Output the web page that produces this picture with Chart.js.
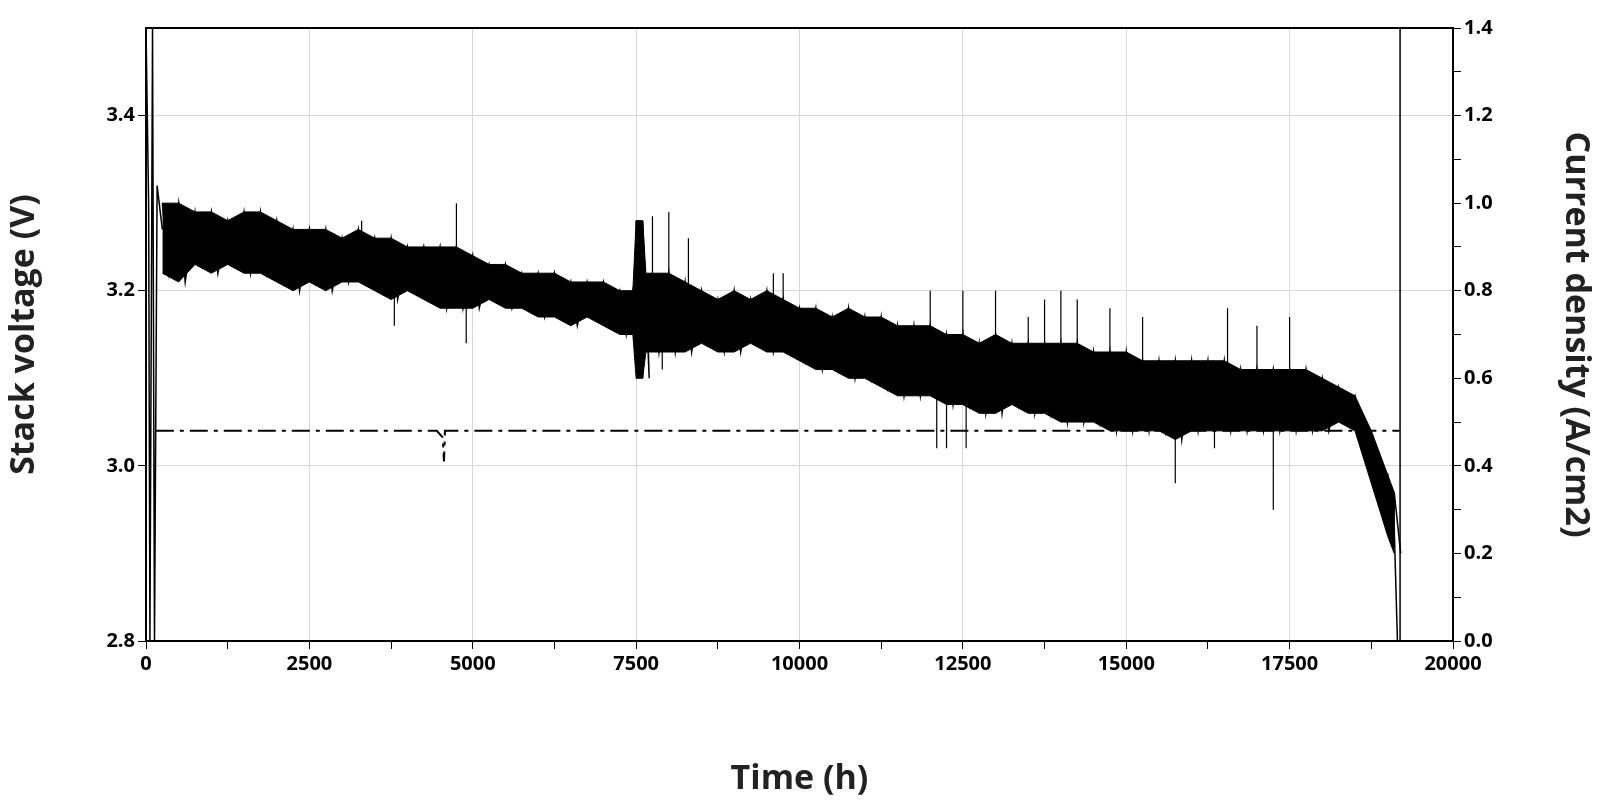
<!DOCTYPE html>
<html><head><meta charset="utf-8">
<script src="https://cdn.jsdelivr.net/npm/chart.js@4"></script>
<style>html,body{margin:0;background:#fff}#c{display:block}</style>
</head><body>
<canvas id="c" width="1600" height="804"></canvas>
<script>
// core band of the voltage trace, read every 250 h
const times = [250,500,750,1000,1250,1500,1750,2000,2250,2500,2750,3000,3250,3500,3750,4000,4250,4500,4750,5000,5250,5500,5750,6000,6250,6500,6750,7000,7250,7450,7500,7600,7650,7750,8000,8250,8500,8750,9000,9250,9500,9750,10000,10250,10500,10750,11000,11250,11500,11750,12000,12250,12500,12750,13000,13250,13500,13750,14000,14250,14500,14750,15000,15250,15500,15750,16000,16250,16500,16750,17000,17250,17500,17750,18000,18250,18500,18750,19000,19100];
const vHigh = [3.30,3.30,3.29,3.29,3.28,3.29,3.29,3.28,3.27,3.27,3.27,3.26,3.27,3.26,3.26,3.25,3.25,3.25,3.25,3.24,3.23,3.23,3.22,3.22,3.22,3.21,3.21,3.21,3.20,3.20,3.28,3.28,3.22,3.22,3.22,3.21,3.20,3.19,3.20,3.19,3.20,3.19,3.18,3.18,3.17,3.18,3.17,3.17,3.16,3.16,3.16,3.15,3.15,3.14,3.15,3.14,3.14,3.14,3.14,3.14,3.13,3.13,3.13,3.12,3.12,3.12,3.12,3.12,3.12,3.11,3.11,3.11,3.11,3.11,3.10,3.09,3.08,3.04,2.99,2.97];
const vLow = [3.22,3.21,3.23,3.22,3.23,3.22,3.22,3.21,3.20,3.21,3.20,3.21,3.21,3.20,3.19,3.20,3.19,3.18,3.18,3.18,3.19,3.18,3.18,3.17,3.17,3.16,3.17,3.16,3.15,3.15,3.10,3.10,3.13,3.13,3.13,3.13,3.14,3.13,3.13,3.14,3.13,3.13,3.12,3.11,3.11,3.10,3.10,3.09,3.08,3.08,3.08,3.07,3.07,3.06,3.06,3.07,3.06,3.06,3.05,3.05,3.05,3.04,3.04,3.04,3.04,3.03,3.04,3.04,3.04,3.04,3.04,3.04,3.04,3.04,3.04,3.05,3.04,2.98,2.92,2.90];
// isolated spikes (time, peak voltage)
const spikeT = [3300,3800,4750,4900,7750,7900,8000,8300,9600,9750,12000,12100,12250,12500,12550,13000,13500,13750,14000,14250,14750,15250,15750,16350,16550,17000,17250,17500];
const spikeV = [3.28,3.16,3.30,3.14,3.285,3.11,3.29,3.26,3.22,3.22,3.20,3.02,3.02,3.20,3.02,3.20,3.17,3.19,3.20,3.19,3.18,3.17,2.98,3.02,3.18,3.16,2.95,3.17];
// start-up transient and shutdown
const startT = [0,40,60,100,130,170,250];
const startV = [3.50,3.30,2.80,3.50,2.80,3.32,3.27];
const endT = [19100,19150];
const endV = [2.93,2.80];
const stopT = 19190;
// current density (dash-dot)
const jT = [150,4450,4540,4560,4575,19190];
const jV = [0.48,0.48,0.465,0.41,0.48,0.48];
const xTicks = [0,2500,5000,7500,10000,12500,15000,17500,20000];

const pts = (t, v) => t.map((x, i) => ({x, y: v[i]}));
const zig = [];
times.forEach((t, i) => { zig.push({x: t, y: vHigh[i]}); zig.push({x: t + 100, y: vLow[i]}); });
const mid = t => {
  let i = times.findIndex(x => x >= t); if (i < 0) i = times.length - 1;
  return (vHigh[i] + vLow[i]) / 2;
};
const spikes = [];
spikeT.forEach((t, i) => { spikes.push({x: t, y: spikeV[i]}, {x: t, y: mid(t)}, {x: t, y: null}); });

const frame = {
  id: 'frame',
  afterDatasetsDraw(ch) {
    const a = ch.chartArea, c = ch.ctx;
    c.save(); c.strokeStyle = '#000'; c.lineWidth = 2;
    c.strokeRect(a.left, a.top, a.right - a.left, a.bottom - a.top);
    c.restore();
  }
};
const font = {family: 'Open Sans', weight: 'bold', size: 20};
const title = {family: 'Open Sans', weight: 'bold', size: 34};
const line = (data, w, axis, extra) => Object.assign({data, borderColor: '#000', borderWidth: w, pointRadius: 0, yAxisID: axis, spanGaps: false}, extra || {});

new Chart(document.getElementById('c'), {
  type: 'line',
  data: {
    datasets: [
      line(pts(times, vHigh), 1, 'y', {fill: false}),
      line(pts(times, vLow), 1, 'y', {fill: '-1', backgroundColor: '#000'}),
      line(zig, 1.5, 'y'),
      line(spikes, 1.2, 'y'),
      line(pts(startT, startV), 1.5, 'y'),
      line(pts(endT, endV), 1.5, 'y'),
      line([{x: stopT, y: 2.8}, {x: stopT, y: 3.5}], 1.5, 'y'),
      line(pts(jT, jV), 2, 'y1', {borderDash: [18, 6, 4, 6]})
    ]
  },
  options: {
    responsive: false, animation: false,
    layout: {padding: {top: 28}},
    plugins: {legend: {display: false}, tooltip: {enabled: false}},
    scales: {
      x: {
        type: 'linear', min: 0, max: 20000,
        afterBuildTicks: s => { s.ticks = []; for (let v = 0; v <= 20000; v += 1250) s.ticks.push({value: v}); },
        ticks: {font, color: '#000', maxRotation: 0, autoSkip: false, callback: v => xTicks.includes(v) ? v : ''},
        grid: {color: c => (c.tick && c.tick.value % 2500 === 0) ? '#d8d8d8' : 'rgba(0,0,0,0)', tickColor: '#000', tickLength: 8},
        title: {display: true, text: 'Time (h)', font: title, color: '#222', padding: {top: 40}},
        afterFit: s => { s.height = 163; }
      },
      y: {
        position: 'left', min: 2.8, max: 3.5,
        afterBuildTicks: s => { s.ticks = [2.8, 3.0, 3.2, 3.4].map(v => ({value: v})); },
        ticks: {font, color: '#000', callback: v => v.toFixed(1)},
        grid: {color: '#d8d8d8', tickColor: '#000', tickLength: 8},
        title: {display: true, text: 'Stack voltage (V)', font: title, color: '#222'},
        afterFit: s => { s.width = 146; }
      },
      y1: {
        position: 'right', min: 0, max: 1.4,
        afterBuildTicks: s => { s.ticks = []; for (let i = 0; i <= 14; i++) s.ticks.push({value: i / 10}); },
        ticks: {font, color: '#000', callback: v => (Math.round(v * 10) % 2 === 0) ? v.toFixed(1) : ''},
        grid: {drawOnChartArea: false, tickColor: '#000', tickLength: 8},
        title: {display: true, text: 'Current density (A/cm2)', font: title, color: '#222'},
        afterFit: s => { s.width = 147; }
      }
    }
  },
  plugins: [frame]
});
</script>
</body></html>
